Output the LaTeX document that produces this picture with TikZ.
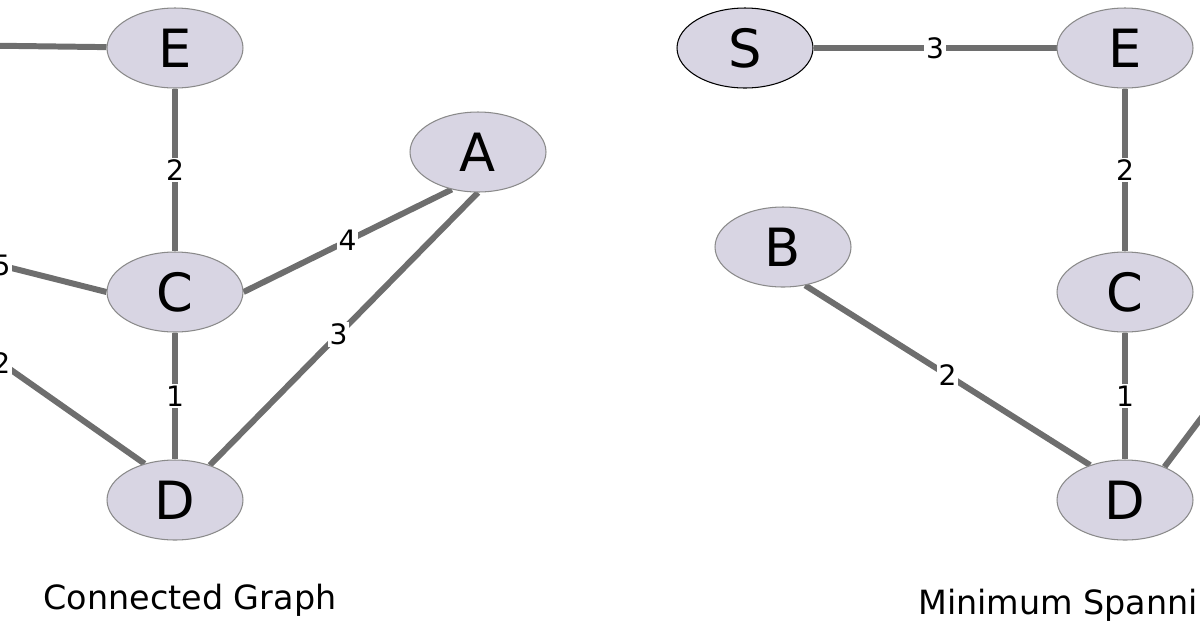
\documentclass[tikz,border=0pt]{standalone}
\usepackage{fontspec}
\setmainfont{DejaVu Sans}
\usetikzlibrary{shapes.geometric}
\pgfdeclarelayer{bg}
\pgfsetlayers{bg,main}
\definecolor{vfill}{HTML}{D8D5E3}
\definecolor{vline}{HTML}{8A8A8A}
\definecolor{eline}{HTML}{6E6E6E}
\tikzset{
  vert/.style={ellipse, draw=vline, fill=vfill, line width=0.6pt, minimum width=2.72cm, minimum height=1.6cm, font=\fontsize{30}{30}\selectfont},
  wedge/.style={draw=eline, line width=3.4pt},
  wlab/.style={fill=white, inner sep=1pt, font=\fontsize{16}{16}\selectfont},
}
\begin{document}
\begin{tikzpicture}[x=0.02cm, y=-0.02cm]
    \useasboundingbox (0,0) rectangle (1200,630);
    \clip (0,0) rectangle (1200,630);
    % left graph
    \node (lE) [vert] at (175,48) {E};
    \node (lA) [vert] at (478,152) {A};
    \node (lC) [vert] at (175,292) {C};
    \node (lD) [vert] at (175,500) {D};
    \coordinate (lS) at (-60,45);
    \coordinate (lB1) at (-60,250);
    \coordinate (lB2) at (-60,320);
    % right graph
    \node (rS) [vert, draw=black] at (745,48) {S};
    \node (rE) [vert] at (1125,48) {E};
    \node (rB) [vert] at (783,247) {B};
    \node (rC) [vert] at (1125,292) {C};
    \node (rD) [vert] at (1125,500) {D};
    \coordinate (rA) at (1260,340);

    \node (cap1) [font=\fontsize{19}{19}\selectfont] at (190,600) {Connected Graph};
    \node (cap2) [font=\fontsize{19}{19}\selectfont, anchor=west] at (912,605) {Minimum Spanning Tree};

    \begin{pgfonlayer}{bg}
        \draw[wedge] (lS) -- (lE);
        \draw[wedge] (lE) -- node[wlab] {2} (lC);
        \draw[wedge] (lB1) -- node[wlab, pos=0.37] {5} (lC.180);
        \draw[wedge] (lC.east) -- node[wlab] {4} (lA.235);
        \draw[wedge] (lC) -- node[wlab] {1} (lD);
        \draw[wedge] (lB2) -- node[wlab, pos=0.3] {2} (lD.130);
        \draw[wedge] (lD.45) -- node[wlab, pos=0.48] {3} (lA.270);
        \draw[wedge] (rS) -- node[wlab] {3} (rE);
        \draw[wedge] (rE) -- node[wlab] {2} (rC);
        \draw[wedge] (rB.300) -- node[wlab, pos=0.5] {2} (rD.135);
        \draw[wedge] (rC) -- node[wlab] {1} (rD);
        \draw[wedge] (rD.40) -- (rA);
    \end{pgfonlayer}
\end{tikzpicture}
\end{document}
